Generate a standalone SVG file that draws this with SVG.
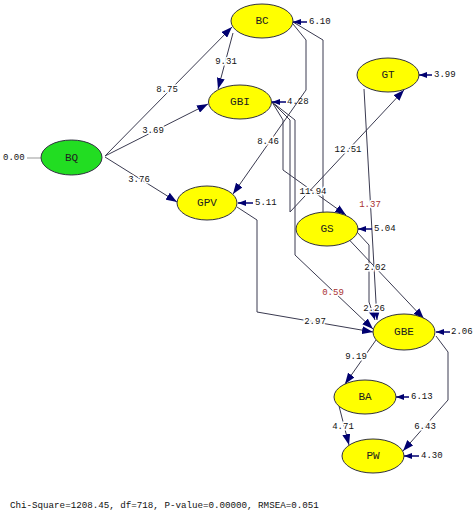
<svg xmlns="http://www.w3.org/2000/svg" width="474" height="515" viewBox="0 0 474 515">
<style>
.n ellipse{fill:#ffff00;stroke:#303040;stroke-width:1}
.n text.t{font-family:"Liberation Mono",monospace;font-size:11px;fill:#202020;text-anchor:middle;dominant-baseline:central}
.e{fill:none;stroke:#3a3a50;stroke-width:1}
.er{fill:none;stroke:#000070;stroke-width:1.5}
.l{font-family:"Liberation Mono",monospace;font-size:9px;fill:#111;text-anchor:middle;dominant-baseline:central;paint-order:stroke;stroke:#fff;stroke-width:3px}
.el{font-family:"Liberation Mono",monospace;font-size:9px;fill:#111;text-anchor:start;dominant-baseline:central}
.r{fill:#a83030}
</style>
<defs>
<marker id="a" markerUnits="userSpaceOnUse" markerWidth="11" markerHeight="8" refX="11" refY="4" orient="auto"><path d="M0,0 L11,4 L0,8 z" fill="#000070"/></marker>
<marker id="s" markerUnits="userSpaceOnUse" markerWidth="8" markerHeight="6" refX="8" refY="3" orient="auto"><path d="M0,0 L8,3 L0,6 z" fill="#000070"/></marker>
</defs>
<rect width="474" height="515" fill="#fff"/>
<g id="connectors">
<polyline class="e" points="105,156 232,27" marker-end="url(#a)"/>
<polyline class="e" points="105,156 208,104" marker-end="url(#a)"/>
<polyline class="e" points="105,157 177,202" marker-end="url(#a)"/>
<polyline class="e" points="233,33 218,89" marker-end="url(#a)"/>
<polyline class="e" points="293,24 306,40 306,90 233,194" marker-end="url(#a)"/>
<polyline class="e" points="293,22 323,40 323,212 424,319" marker-end="url(#a)"/>
<polyline class="e" points="272,102 283,120 283,170 346,215" marker-end="url(#a)"/>
<polyline class="e" points="272,102 290,120 290,212 404,90" marker-end="url(#a)"/>
<polyline class="e" points="272,102 295,120 295,255 373,329" marker-end="url(#a)"/>
<polyline class="e" points="237,207 257,220 257,312 373,332" marker-end="url(#a)"/>
<polyline class="e" points="364,89 377,320" marker-end="url(#a)"/>
<polyline class="e" points="357,232 369,245 369,302 375,320" marker-end="url(#a)"/>
<polyline class="e" points="376,340 345,384" marker-end="url(#a)"/>
<polyline class="e" points="339,406 349,445" marker-end="url(#a)"/>
<polyline class="e" points="436,336 448,352 448,400 403,451" marker-end="url(#a)"/>
<line x1="27" y1="158" x2="41" y2="158" stroke="#999" stroke-width="1"/>
<line class="er" x1="307" y1="22" x2="293" y2="22" marker-end="url(#s)"/>
<line class="er" x1="286" y1="102" x2="272" y2="102" marker-end="url(#s)"/>
<line class="er" x1="253" y1="203" x2="238" y2="203" marker-end="url(#s)"/>
<line class="er" x1="432" y1="75" x2="419" y2="75" marker-end="url(#s)"/>
<line class="er" x1="372" y1="229" x2="358" y2="229" marker-end="url(#s)"/>
<line class="er" x1="450" y1="332" x2="436" y2="332" marker-end="url(#s)"/>
<line class="er" x1="409" y1="397" x2="396" y2="397" marker-end="url(#s)"/>
<line class="er" x1="419" y1="456" x2="404" y2="456" marker-end="url(#s)"/>
<text class="l" x="167" y="90">8.75</text>
<text class="l" x="153" y="131">3.69</text>
<text class="l" x="139" y="180">3.76</text>
<text class="l" x="226" y="62">9.31</text>
<text class="l" x="268" y="142">8.46</text>
<text class="l" x="348" y="150">12.51</text>
<text class="l" x="313" y="192">11.94</text>
<text class="l r" x="370" y="205">1.37</text>
<text class="l" x="375" y="268">2.02</text>
<text class="l r" x="333" y="293">0.59</text>
<text class="l" x="374" y="309">2.26</text>
<text class="l" x="315" y="322">2.97</text>
<text class="l" x="356" y="357">9.19</text>
<text class="l" x="343" y="427">4.71</text>
<text class="l" x="425" y="427">6.43</text>
</g>
<g id="BQ" class="n"><ellipse cx="71.5" cy="157.5" rx="30.5" ry="17.5" style="fill:#22dd22"/><text class="t" x="71.5" y="158">BQ</text><text class="el" x="3" y="158">0.00</text></g>
<g id="BC" class="n"><ellipse cx="262" cy="21" rx="31" ry="17"/><text class="t" x="262" y="21">BC</text><text class="el" x="309" y="22">6.10</text></g>
<g id="GBI" class="n"><ellipse cx="240" cy="102" rx="31.5" ry="17"/><text class="t" x="240" y="102">GBI</text><text class="el" x="287" y="102">4.28</text></g>
<g id="GPV" class="n"><ellipse cx="207" cy="203" rx="30" ry="17"/><text class="t" x="207" y="203">GPV</text><text class="el" x="255" y="203">5.11</text></g>
<g id="GT" class="n"><ellipse cx="388" cy="75" rx="31" ry="17"/><text class="t" x="388" y="75">GT</text><text class="el" x="434" y="75">3.99</text></g>
<g id="GS" class="n"><ellipse cx="327" cy="229" rx="31" ry="17"/><text class="t" x="327" y="229">GS</text><text class="el" x="374" y="229">5.04</text></g>
<g id="GBE" class="n"><ellipse cx="404" cy="332" rx="31" ry="18"/><text class="t" x="404" y="332">GBE</text><text class="el" x="451" y="332">2.06</text></g>
<g id="BA" class="n"><ellipse cx="365" cy="397" rx="31" ry="17"/><text class="t" x="365" y="397">BA</text><text class="el" x="411" y="397">6.13</text></g>
<g id="PW" class="n"><ellipse cx="373" cy="456" rx="31" ry="17"/><text class="t" x="373" y="456">PW</text><text class="el" x="421" y="456">4.30</text></g>
<text class="el" x="10" y="505" style="font-size:9.2px">Chi-Square=1208.45, df=718, P-value=0.00000, RMSEA=0.051</text>
</svg>
